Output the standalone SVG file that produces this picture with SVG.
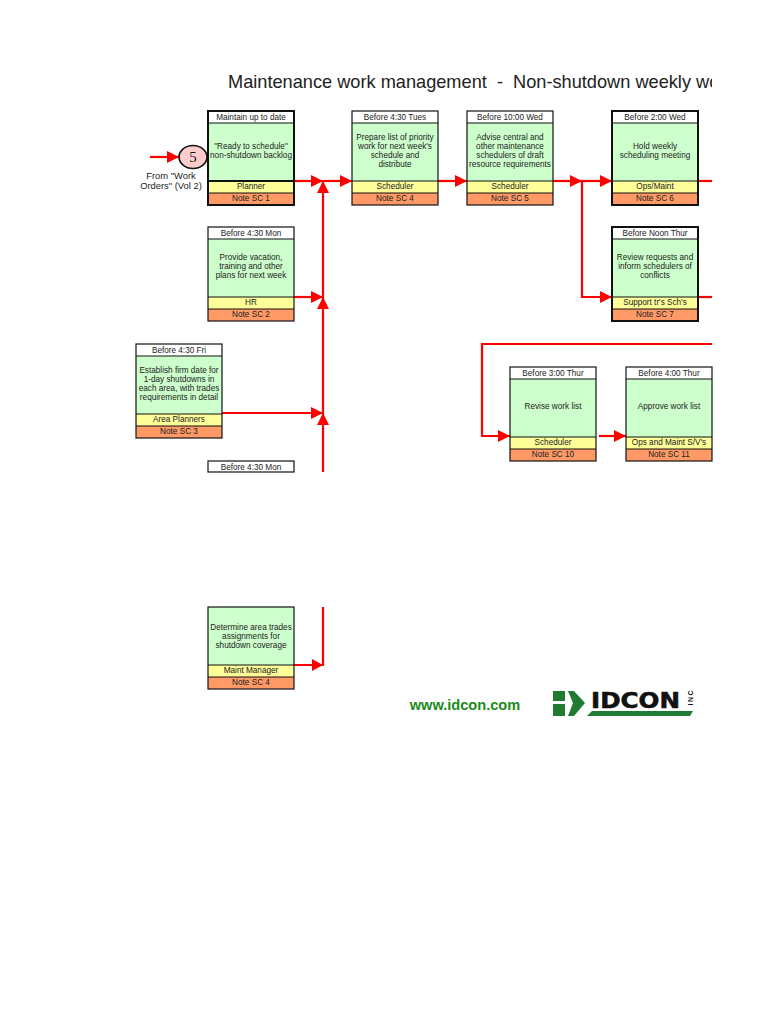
<svg xmlns="http://www.w3.org/2000/svg" width="768" height="1024" viewBox="0 0 768 1024">
<style>
text{font-family:"Liberation Sans",Arial,sans-serif;fill:#222;text-anchor:middle;font-size:8.2px}
.box{fill:#fff;stroke:#111;stroke-width:1.2}
.h{fill:#fff}.g{fill:#ccffcc}.y{fill:#ffff99}.o{fill:#ff9966}
.d{stroke:#111;stroke-width:1.2;fill:none}
.t{stroke:#111;stroke-width:2;fill:none}
.c{fill:none;stroke:#ff0000;stroke-width:2.2}
</style>
<defs>
<marker id="a" markerUnits="userSpaceOnUse" markerWidth="13" markerHeight="12" refX="12" refY="6" orient="auto"><path d="M0 0L12 6L0 12Z" fill="#ff0000"/></marker>
<clipPath id="cp"><rect x="0" y="0" width="712" height="1024"/></clipPath>
<g id="shape"><rect class="h" width="86" height="12"/><rect class="g" y="12" width="86" height="58"/><rect class="y" y="70" width="86" height="12"/><rect class="o" y="82" width="86" height="12"/><rect class="d" width="86" height="94"/><path class="d" d="M0 12H86M0 70H86M0 82H86"/></g>
</defs>
<text id="title" x="228" y="88" clip-path="url(#cp)" xml:space="preserve" style="text-anchor:start;font-size:18.2px">Maintenance work management  -  Non-shutdown weekly wo</text>
<g id="connectors">
<path class="c" d="M150 157H179" marker-end="url(#a)"/>
<path class="c" d="M294 181H323" marker-end="url(#a)"/>
<path class="c" d="M323 181H352" marker-end="url(#a)"/>
<path class="c" d="M323 297V181" marker-end="url(#a)"/>
<path class="c" d="M294 297H323" marker-end="url(#a)"/>
<path class="c" d="M323 413V297" marker-end="url(#a)"/>
<path class="c" d="M222 413H323" marker-end="url(#a)"/>
<path class="c" d="M323 472V413" marker-end="url(#a)"/>
<path class="c" d="M294 665H323V607"/>
<path d="M312 659L323 665L312 671Z" fill="#ff0000"/>
<path class="c" d="M438 181H467" marker-end="url(#a)"/>
<path class="c" d="M553 181H582" marker-end="url(#a)"/>
<path class="c" d="M582 181H612" marker-end="url(#a)"/>
<path class="c" d="M582 181V297H612" marker-end="url(#a)"/>
<path class="c" d="M698 181H712"/>
<path class="c" d="M698 297H712"/>
<path class="c" d="M712 344H482V436H510" marker-end="url(#a)"/>
<path class="c" d="M599 436H626" marker-end="url(#a)"/>
</g>
<g id="start">
<ellipse cx="193" cy="157" rx="14" ry="11.500" fill="#ffcccc" stroke="#111" stroke-width="1.6"/>
<text x="193" y="162" style="font-family:'Liberation Serif',serif;font-size:15px;fill:#111">5</text>
<text x="171" y="179" style="font-size:9.4px">From "Work</text>
<text x="171" y="189" style="font-size:9.4px">Orders" (Vol 2)</text>
</g>
<g id="sc1" transform="translate(208 111)"><use href="#shape"/><path class="t" d="M0 0H86V94H0ZM0 70H86"/>
<text x="43" y="8.500">Maintain up to date</text><text x="43" y="38">"Ready to schedule"</text><text x="43" y="47">non-shutdown backlog</text><text x="43" y="78">Planner</text><text x="43" y="90">Note SC 1</text></g>
<g id="sc2" transform="translate(208 227)"><use href="#shape"/>
<text x="43" y="8.500">Before 4:30 Mon</text><text x="43" y="33">Provide vacation,</text><text x="43" y="42">training and other</text><text x="43" y="51">plans for next week</text><text x="43" y="78">HR</text><text x="43" y="90">Note SC 2</text></g>
<g id="sc3" transform="translate(136 344)"><use href="#shape"/>
<text x="43" y="8.500">Before 4:30 Fri</text><text x="43" y="29">Establish firm date for</text><text x="43" y="38">1-day shutdowns in</text><text x="43" y="47">each area, with trades</text><text x="43" y="56">requirements in detail</text><text x="43" y="78">Area Planners</text><text x="43" y="90">Note SC 3</text></g>
<g id="partial" transform="translate(208 461)"><rect class="box" width="86" height="11"/><text x="43" y="8.500">Before 4:30 Mon</text></g>
<g id="trades">
<rect class="g" x="208" y="607" width="86" height="58"/><rect class="y" x="208" y="665" width="86" height="12"/><rect class="o" x="208" y="677" width="86" height="12"/>
<rect class="d" x="208" y="607" width="86" height="82"/><path class="d" d="M208 665H294M208 677H294"/>
<text x="251" y="630">Determine area trades</text><text x="251" y="639">assignments for</text><text x="251" y="648">shutdown coverage</text><text x="251" y="673">Maint Manager</text><text x="251" y="685">Note SC 4</text></g>
<g id="sc4" transform="translate(352 111)"><use href="#shape"/>
<text x="43" y="8.500">Before 4:30 Tues</text><text x="43" y="29">Prepare list of priority</text><text x="43" y="38">work for next week's</text><text x="43" y="47">schedule and</text><text x="43" y="56">distribute</text><text x="43" y="78">Scheduler</text><text x="43" y="90">Note SC 4</text></g>
<g id="sc5" transform="translate(467 111)"><use href="#shape"/>
<text x="43" y="8.500">Before 10:00 Wed</text><text x="43" y="29">Advise central and</text><text x="43" y="38">other maintenance</text><text x="43" y="47">schedulers of draft</text><text x="43" y="56">resource requirements</text><text x="43" y="78">Scheduler</text><text x="43" y="90">Note SC 5</text></g>
<g id="sc6" transform="translate(612 111)"><use href="#shape"/><path class="t" d="M0 0H86V94H0Z"/>
<text x="43" y="8.500">Before 2:00 Wed</text><text x="43" y="38">Hold weekly</text><text x="43" y="47">scheduling meeting</text><text x="43" y="78">Ops/Maint</text><text x="43" y="90">Note SC 6</text></g>
<g id="sc7" transform="translate(612 227)"><use href="#shape"/><path class="t" d="M0 0H86V94H0Z"/>
<text x="43" y="8.500">Before Noon Thur</text><text x="43" y="33">Review requests and</text><text x="43" y="42">inform schedulers of</text><text x="43" y="51">conflicts</text><text x="43" y="78">Support tr's Sch's</text><text x="43" y="90">Note SC 7</text></g>
<g id="sc10" transform="translate(510 367)"><use href="#shape"/>
<text x="43" y="8.500">Before 3:00 Thur</text><text x="43" y="42">Revise work list</text><text x="43" y="78">Scheduler</text><text x="43" y="90">Note SC 10</text></g>
<g id="sc11" transform="translate(626 367)"><use href="#shape"/>
<text x="43" y="8.500">Before 4:00 Thur</text><text x="43" y="42">Approve work list</text><text x="43" y="78">Ops and Maint S/V's</text><text x="43" y="90">Note SC 11</text></g>
<text id="url" x="465" y="710" style="font-size:14.600px;font-weight:bold;fill:#1a8a1a">www.idcon.com</text>
<g id="logo">
<rect x="553" y="691" width="12" height="10" fill="#1f7a32"/><rect x="553" y="704" width="12" height="12" fill="#1f7a32"/>
<path d="M568 691H574L585 703L574 716H568L573 703Z" fill="#1f7a32"/>
<path d="M592 711H693L690 716H587Z" fill="#1f7a32"/>
<text x="591" y="708" textLength="89" lengthAdjust="spacingAndGlyphs" style="text-anchor:start;font-family:'DejaVu Sans',sans-serif;font-size:22px;font-weight:bold;fill:#111;stroke:#111;stroke-width:.6">IDCON</text>
<text transform="translate(693 698) rotate(-90)" textLength="15" style="font-size:7px;font-weight:bold;fill:#111">INC</text>
</g>
</svg>
